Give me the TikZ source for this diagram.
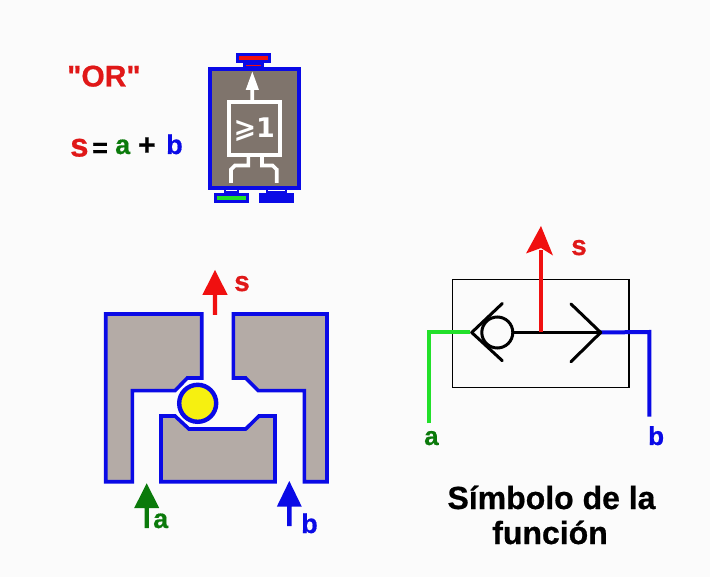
\documentclass[tikz,border=0pt]{standalone}
\usepackage{fontspec}
\setmainfont{Liberation Sans}[BoldFeatures={FakeBold=0.6}]
\newfontfamily\rawfont{Liberation Sans}[BoldFeatures={FakeBold=0.6}]
\newfontfamily\symfont{DejaVu Sans Bold}
\definecolor{bgc}{HTML}{FBFBFB}
\definecolor{bl}{HTML}{0A0AE6}
\definecolor{rd}{HTML}{F01010}
\definecolor{dkrd}{HTML}{E01818}
\definecolor{dg}{HTML}{0B7A0B}
\definecolor{lg}{HTML}{22E02A}
\definecolor{blockc}{HTML}{B4ABA6}
\definecolor{iconc}{HTML}{7F746C}
\definecolor{ballc}{HTML}{F6F010}
\tikzset{
 lbl/.style={inner sep=0pt,font=\fontsize{#1}{#1}\selectfont\bfseries},
 block/.style={draw=bl,line width=3.6pt,fill=blockc,line join=miter},
 wht/.style={draw=white,line width=3pt},
 sym/.style={draw=black,line width=3pt,line cap=round,line join=round},
}
\newcommand{\uparrowshape}[6]{% colour, x, tip y, base y, bottom y, half width
 \fill[#1] (#2,#3)--(#2+#6,#4)--(#2+2.2,#4)--(#2+2.2,#5)--(#2-2.2,#5)--(#2-2.2,#4)--(#2-#6,#4)--cycle;}
\begin{document}
\begin{tikzpicture}[x=1pt,y=-1pt]
\fill[bgc] (0,0) rectangle (710,577);
\useasboundingbox (0,0) rectangle (710,577);
% title
\node[lbl=30,text=dkrd,anchor=base west] (title) at (67,86.5) {\rawfont\bfseries "OR"};
\node[lbl=33,text=dkrd,anchor=base west] (fs) at (70,156.5) {s};
\node[lbl=27,anchor=base west] (feq) at (92,157) {=};
\node[lbl=27,text=dg,anchor=base west] (fa) at (115,154) {a};
\node[lbl=30,anchor=base west] (fplus) at (138,155) {+};
\node[lbl=27,text=bl,anchor=base west] (fb) at (166,154) {b};
% icon
\fill[bl] (243.3,63) rectangle (264,68);
\draw[rd,line width=.8pt] (246,65) -- (261,65);
\fill[bl] (236,53.3) rectangle (271,63.3);
\fill[rd] (239,56) rectangle (268.3,60.3);
\draw[draw=bl,line width=3.7pt,fill=iconc] (210,69) rectangle (299,187.7);
\fill[bl] (224.3,189) rectangle (239,193);
\fill[bl] (266,189) rectangle (286.7,193);
\draw[white,line width=.8pt] (226,190) -- (237,190);
\draw[white,line width=.8pt] (268,190) -- (284.5,190);
\fill[bl] (214,192.7) rectangle (249,202.7);
\fill[lg] (216.7,195.7) rectangle (246,200);
\fill[bl] (259,192.7) rectangle (294,202.7);
\draw[draw=white,line width=4pt] (228.8,102) rectangle (279.8,154.7);
\fill[white] (252.3,71.7)--(259,90)--(254.2,90)--(254.2,100)--(250.4,100)--(250.4,90)--(245.7,90)--cycle;
\node[inner sep=0pt,text=white,font=\symfont\fontsize{27}{27}\selectfont,anchor=base] (gate) at (254.3,138) {⩾1};
\draw[wht,line width=3.6pt,line join=miter] (248.3,156.7)--(248.3,165.5)--(235,165.5)--(231,169.5)--(231,183);
\draw[wht,line width=3.6pt,line join=miter] (262,156.7)--(262,165.5)--(272.5,165.5)--(276.7,169.5)--(276.7,183);
% valve
\draw[block] (105.7,314)--(201.7,314)--(201.7,378)--(187.3,378)--(175,390.7)--(132.3,390.7)--(132.3,481.7)--(105.7,481.7)--cycle;
\draw[block] (233.3,314)--(327,314)--(327,481.7)--(304.3,481.7)--(304.3,390.7)--(258.3,390.7)--(245.7,378)--(233.3,378)--cycle;
\draw[block] (161,416)--(175,416)--(189,429)--(245.7,429)--(259,416)--(275,416)--(275,481.7)--(161,481.7)--cycle;
\node[circle,draw=bl,line width=4.4pt,fill=ballc,minimum size=37pt,inner sep=0pt] (ball) at (197.7,403.3) {};
\uparrowshape{rd}{215}{270}{295}{315}{12.7}
\uparrowshape{dg}{146.7}{483.3}{508}{528}{12.5}
\uparrowshape{bl}{289.3}{481}{506.7}{526}{12.5}
\node[lbl=28,text=dkrd,anchor=base west] (vs) at (234,291) {s};
\node[lbl=27,text=dg,anchor=base west] (va) at (153,528) {a};
\node[lbl=27,text=bl,anchor=base west] (vb) at (301,533) {b};
% symbol
\node[draw=black,line width=1.5pt,minimum width=176.6pt,minimum height=107.7pt,inner sep=0pt,anchor=north west] (frame) at (451.7,279) {};
\coordinate (la) at (429.3,423.3);
\coordinate (lak) at (429.3,332);
\coordinate (ltip) at (471.7,332.5);
\coordinate (rtip) at (600.7,332.5);
\coordinate (rbk) at (649.3,332);
\coordinate (rb) at (649.3,416.7);
\coordinate (mid) at (541,332.5);
\draw[lg,line width=4pt] (la)--(lak)--(470,332);
\draw[bl,line width=4pt] (rtip)--(rbk)--(rb);
\node[circle,draw=black,line width=3pt,minimum size=31pt,inner sep=0pt] (seat) at (497.3,332.5) {};
\draw[sym] (502.3,303.5)--(ltip)--(502.3,360.7);
\draw[sym] (571,304)--(rtip)--(571,361.7);
\draw[sym] (seat.east)--(rtip);
\draw[rd,line width=4pt] (mid)--(541,250);
\fill[rd] (541,226)--(553,255.5)--(541,248)--(526,253.5)--cycle;
\node[lbl=28,text=dkrd,anchor=base west] (ss) at (571,255) {s};
\node[lbl=26,text=dg,anchor=base west] (sa) at (424,445) {a};
\node[lbl=26,text=bl,anchor=base west] (sb) at (648,445) {b};
\node[lbl=32,anchor=base] (cap) at (551.5,509) {Símbolo de la};
\node[lbl=32,anchor=base] (cap2) at (550,544) {función};
\end{tikzpicture}
\end{document}
